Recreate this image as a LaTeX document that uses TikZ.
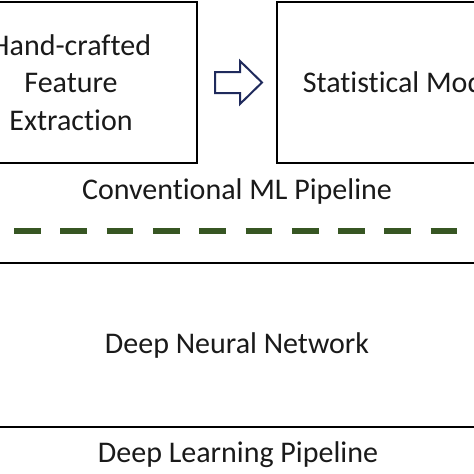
\documentclass[tikz,border=0pt]{standalone}
\usepackage{fontspec}
\setmainfont{Carlito}[Ligatures={NoCommon,NoContextual},RawFeature={-liga;-clig;-calt}]
\usetikzlibrary{calc}
\definecolor{dashgreen}{HTML}{375623}
\definecolor{arrownavy}{HTML}{1F2A5C}
\definecolor{ink}{HTML}{1A1A1A}
\begin{document}
\begin{tikzpicture}[x=1pt,y=-1pt,
  box/.style={draw=black,line width=2.4pt,inner sep=0pt,align=center,text=ink,
    font=\fontsize{30}{37.5}\selectfont},
  lbl/.style={inner sep=0pt,text=ink,font=\fontsize{30}{36}\selectfont},
  blockarrow/.style={draw=arrownavy,fill=white,line width=2pt,line join=miter},
  sep/.style={draw=dashgreen,line width=6pt,dash pattern=on 26.7pt off 19.6pt}]
\useasboundingbox (0,0) rectangle (474,474);
\clip (0,0) rectangle (474,474);
\fill[white] (0,0) rectangle (474,474);
% top pipeline
\node[box,minimum width=252pt,minimum height=161pt] (fe) at (71,82.5) {Hand-crafted\\Feature\\Extraction};
\node[box,minimum width=254pt,minimum height=161pt] (sm) at (404,82.5) {Statistical Model};
\draw[blockarrow] (215,72) -- (240,72) -- (240,61) -- (262,82.5) -- (240,104) -- (240,93) -- (215,93) -- cycle;
\node[lbl] (conv) at (237,191) {Conventional ML Pipeline};
% separator
\coordinate (sepL) at (14,231);
\coordinate (sepR) at (458,231);
\draw[sep] (sepL) -- (sepR);
% bottom pipeline
\node[box,minimum width=620pt,minimum height=164pt] (dnn) at (237,345) {Deep Neural Network};
\node[lbl] (dl) at (238,455) {Deep Learning Pipeline};
\end{tikzpicture}
\end{document}
